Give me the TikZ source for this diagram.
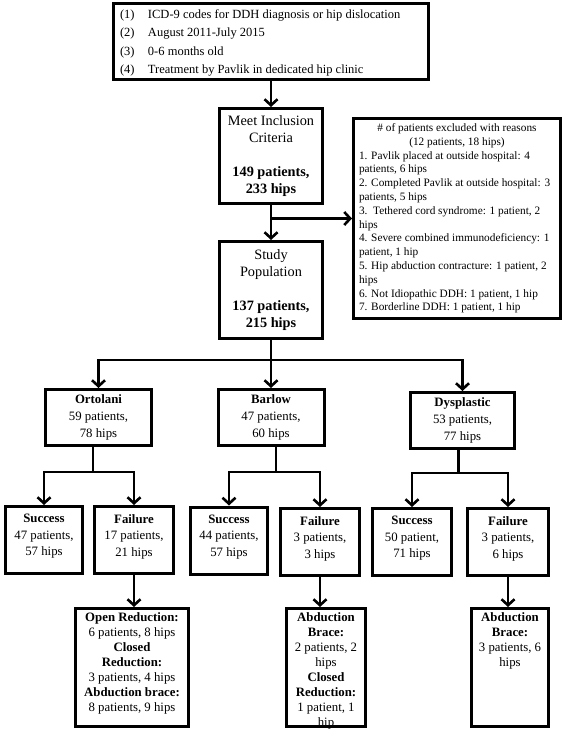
\documentclass[tikz,border=0pt]{standalone}
\usepackage{fontspec}
\setmainfont{Liberation Serif}
\usetikzlibrary{arrows.meta}
\newcommand{\tbx}[4]{\parbox[c][#1][t]{#2}{\centering\vspace*{#3}#4\par}}
\tikzset{
  box/.style={draw, line width=3pt, align=center, inner sep=2pt},
  gfont/.style={font=\fontsize{12.8}{16.5}\selectfont},
  cfont/.style={font=\fontsize{14.3}{17}\selectfont},
  conn/.style={line width=2.6pt},
  arr/.style={conn, -{Straight Barb[length=6pt,width=13pt]}}
}
\begin{document}
\begin{tikzpicture}[x=1pt,y=-1pt]
\fill[white] (0,0) rectangle (567,730);
\useasboundingbox (0,0) rectangle (567,730);

% top criteria box
\node[box, inner sep=0pt, font=\fontsize{12.5}{18.5}\selectfont] (top) at (271,41.5)
 {\parbox[c][76pt][t]{315pt}{\raggedright\vspace*{6pt}\leftskip=6.5pt
  \makebox[28pt][l]{(1)}ICD-9 codes for DDH diagnosis or hip dislocation\\
  \makebox[28pt][l]{(2)}August 2011-July 2015\\
  \makebox[28pt][l]{(3)}0-6 months old\\
  \makebox[28pt][l]{(4)}Treatment by Pavlik in dedicated hip clinic\par}};

\node[box, cfont, minimum width=103pt, minimum height=95pt] (meet) at (271,156)
 {Meet Inclusion\\Criteria\\[17pt]\textbf{149 patients,}\\\textbf{233 hips}};

\node[box, inner sep=0pt, minimum width=207pt, minimum height=200pt,
      font=\fontsize{11.3}{13.8}\selectfont] (excl) at (457,218.5)
 {\parbox{196pt}{\centering \#{} of patients excluded with reasons\\(12 patients, 18 hips)\par
  \raggedright
  \mbox{1. Pavlik placed at outside hospital: 4}\\
  patients, 6 hips\\
  \mbox{2. Completed Pavlik at outside hospital: 3}\\
  patients, 5 hips\\
  \mbox{3.\ \ Tethered cord syndrome: 1 patient, 2}\\
  hips\\
  \mbox{4. Severe combined immunodeficiency: 1}\\
  patient, 1 hip\\
  \mbox{5. Hip abduction contracture: 1 patient, 2}\\
  hips\\
  \mbox{6. Not Idiopathic DDH: 1 patient, 1 hip}\\
  \mbox{7. Borderline DDH: 1 patient, 1 hip}}};

\node[box, cfont, minimum width=103pt, minimum height=97pt] (study) at (271,290)
 {Study\\Population\\[17pt]\textbf{137 patients,}\\\textbf{215 hips}};

% groups
\node[box, font=\fontsize{12.8}{17}\selectfont, minimum width=106pt, minimum height=56pt] (ort) at (98.5,417.5)
 {\textbf{Ortolani}\\59 patients,\\78 hips};
\node[box, font=\fontsize{12.8}{17}\selectfont, minimum width=106pt, minimum height=56pt] (bar) at (271,417.5)
 {\textbf{Barlow}\\47 patients,\\60 hips};
\node[box, font=\fontsize{12.8}{17}\selectfont, minimum width=104pt, minimum height=56pt] (dys) at (462.5,420.5)
 {\textbf{Dysplastic}\\53 patients,\\77 hips};

% outcomes
\node[box, gfont, inner sep=0pt] (s1) at (44,540)
 {\tbx{67pt}{77pt}{8pt}{\textbf{Success}\\47 patients,\\57 hips}};
\node[box, gfont, inner sep=0pt] (f1) at (134,540)
 {\tbx{67pt}{79pt}{8pt}{\textbf{Failure}\\17 patients,\\21 hips}};
\node[box, gfont, inner sep=0pt] (s2) at (229,540.5)
 {\tbx{67pt}{77pt}{8pt}{\textbf{Success}\\44 patients,\\57 hips}};
\node[box, gfont, inner sep=0pt] (f2) at (320,542)
 {\tbx{67pt}{79pt}{8pt}{\textbf{Failure}\\3 patients,\\3 hips}};
\node[box, gfont, inner sep=0pt] (s3) at (412,542)
 {\tbx{67pt}{79pt}{8pt}{\textbf{Success}\\50 patient,\\71 hips}};
\node[box, gfont, inner sep=0pt] (f3) at (508,542)
 {\tbx{67pt}{81pt}{8pt}{\textbf{Failure}\\3 patients,\\6 hips}};

% treatments
\node[box, font=\fontsize{12.8}{15}\selectfont, inner sep=0pt] (b1) at (132,667.5)
 {\tbx{118pt}{113pt}{4pt}{\textbf{Open Reduction:}\\6 patients, 8 hips\\\textbf{Closed}\\\textbf{Reduction:}\\3 patients, 4 hips\\\textbf{Abduction brace:}\\8 patients, 9 hips}};
\node[box, font=\fontsize{12.8}{15}\selectfont, inner sep=0pt] (b2) at (326,667.5)
 {\tbx{118pt}{79pt}{4pt}{\textbf{Abduction}\\\textbf{Brace:}\\2 patients, 2\\hips\\\textbf{Closed}\\\textbf{Reduction:}\\1 patient, 1\\hip}};
\node[box, font=\fontsize{12.8}{15}\selectfont, inner sep=0pt] (b3) at (510,667.5)
 {\tbx{118pt}{77pt}{4pt}{\textbf{Abduction}\\\textbf{Brace:}\\3 patients, 6\\hips}};

% connectors
\draw[arr] (top.south) -- (meet.north);
\draw[arr] (meet.south) -- (study.north);
\coordinate (e0) at (271,218.5);
\draw[arr] (e0) -- (excl.west);

\coordinate (c0) at (271,360);
\draw[conn] (study.south) -- (c0);
\draw[arr] (c0) -| (ort.north);
\draw[arr] (c0) -| (dys.north);
\draw[arr] (c0) -- (bar.north);

\coordinate (o0) at (93,472);
\draw[conn] (ort.south -| o0) -- (o0);
\draw[arr] (o0) -| (s1.north);
\draw[arr] (o0) -| (f1.north);

\coordinate (o1) at (276,472);
\draw[conn] (bar.south -| o1) -- (o1);
\draw[arr] (o1) -| (s2.north);
\draw[arr] (o1) -| (f2.north);

\coordinate (o2) at (458.5,473);
\draw[conn] (dys.south -| o2) -- (o2);
\draw[arr] (o2) -| (s3.north);
\draw[arr] (o2) -| (f3.north);

\draw[arr] (f1.south) -- (f1.south |- b1.north);
\draw[arr] (f2.south) -- (f2.south |- b2.north);
\draw[arr] (f3.south) -- (f3.south |- b3.north);
\end{tikzpicture}
\end{document}
